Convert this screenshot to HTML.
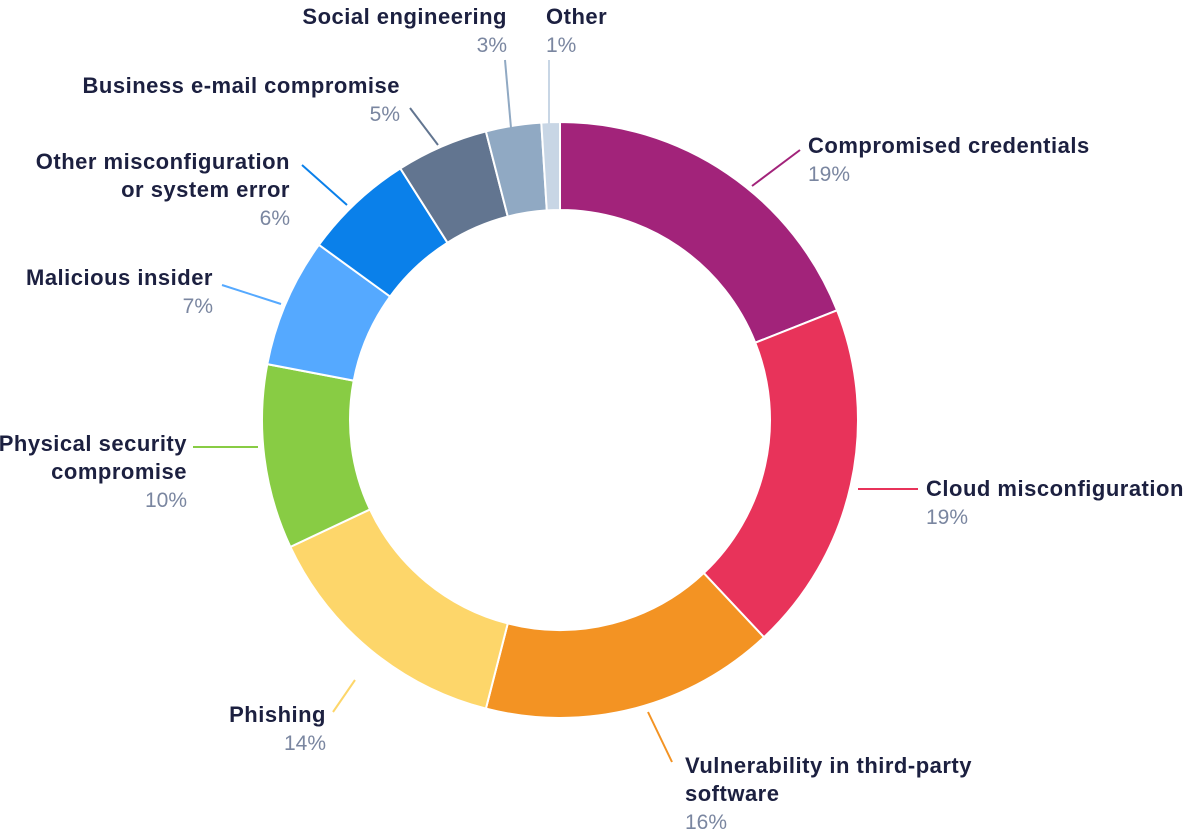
<!DOCTYPE html>
<html><head><meta charset="utf-8"><style>
html,body{margin:0;padding:0;background:#fff;}
svg{display:block;font-family:"Liberation Sans",sans-serif;}
</style></head><body>
<svg id="chart" width="1186" height="834" viewBox="0 0 1186 834"></svg>
<script>
const categories = ["Compromised credentials","Cloud misconfiguration","Vulnerability in third-party software","Phishing","Physical security compromise","Malicious insider","Other misconfiguration or system error","Business e-mail compromise","Social engineering","Other"];
const values = [19,19,16,14,10,7,6,5,3,1];
const pctLabels = ["19%","19%","16%","14%","10%","7%","6%","5%","3%","1%"];
const colors = ["#a2237a","#e8335a","#f39323","#fdd66a","#88cc44","#55a9ff","#0a80ea","#627590","#90a9c3","#c8d6e5"];
const layouts = [
 {lines:["Compromised credentials"],x:808,y:153,anchor:"start",l:[752,186,800,150]},
 {lines:["Cloud misconfiguration"],x:926,y:496,anchor:"start",l:[858,489,918,489]},
 {lines:["Vulnerability in third-party","software"],x:685,y:773,anchor:"start",l:[648,712,672,762]},
 {lines:["Phishing"],x:326,y:722,anchor:"end",l:[355,680,333,712]},
 {lines:["Physical security","compromise"],x:187,y:451,anchor:"end",l:[193,447,258,447]},
 {lines:["Malicious insider"],x:213,y:285,anchor:"end",l:[222,285,281,304]},
 {lines:["Other misconfiguration","or system error"],x:290,y:169,anchor:"end",l:[302,165,347,205]},
 {lines:["Business e-mail compromise"],x:400,y:93,anchor:"end",l:[410,108,438,145]},
 {lines:["Social engineering"],x:507,y:24,anchor:"end",l:[505,60,511,128]},
 {lines:["Other"],x:546,y:24,anchor:"start",l:[549,60,549,124]}
];
const NS="http://www.w3.org/2000/svg";
const svg=document.getElementById('chart');
const cx=560,cy=420,R=298,r=210;
const total=values.reduce((a,b)=>a+b,0);
function pt(a,rad){return [cx+rad*Math.sin(a),cy-rad*Math.cos(a)];}
let acc=0;
values.forEach((v,i)=>{
  const a0=acc/total*2*Math.PI; acc+=v; const a1=acc/total*2*Math.PI;
  const large=(a1-a0)>Math.PI?1:0;
  const p0=pt(a0,R),p1=pt(a1,R),q1=pt(a1,r),q0=pt(a0,r);
  const p=document.createElementNS(NS,'path');
  p.setAttribute('d',`M${p0[0]},${p0[1]}A${R},${R} 0 ${large} 1 ${p1[0]},${p1[1]}L${q1[0]},${q1[1]}A${r},${r} 0 ${large} 0 ${q0[0]},${q0[1]}Z`);
  p.setAttribute('fill',colors[i]);p.setAttribute('stroke','#fff');p.setAttribute('stroke-width','2');
  
  
  svg.appendChild(p);
  const L=layouts[i];
  const ln=document.createElementNS(NS,'line');
  ln.setAttribute('x1',L.l[0]);ln.setAttribute('y1',L.l[1]);ln.setAttribute('x2',L.l[2]);ln.setAttribute('y2',L.l[3]);
  ln.setAttribute('stroke',colors[i]);ln.setAttribute('stroke-width','2');
  
  
  svg.appendChild(ln);
  const t=document.createElementNS(NS,'text');
  t.setAttribute('x',L.x);t.setAttribute('y',L.y);t.setAttribute('text-anchor',L.anchor);
  t.setAttribute('font-size','22');t.setAttribute('fill','#1c2040');t.setAttribute('font-weight','bold');
  t.setAttribute('letter-spacing','0.5');
  
  
  L.lines.forEach((s,j)=>{const ts=document.createElementNS(NS,'tspan');ts.setAttribute('x',L.x);ts.setAttribute('dy',j?28:0);ts.textContent=s;t.appendChild(ts);});
  svg.appendChild(t);
  const pv=document.createElementNS(NS,'text');
  pv.setAttribute('x',L.x);pv.setAttribute('y',L.y+28*L.lines.length);pv.setAttribute('text-anchor',L.anchor);
  pv.setAttribute('font-size','21');pv.setAttribute('fill','#7a86a0');
  
  
  pv.textContent=pctLabels[i];
  svg.appendChild(pv);
});
</script>
</body></html>
